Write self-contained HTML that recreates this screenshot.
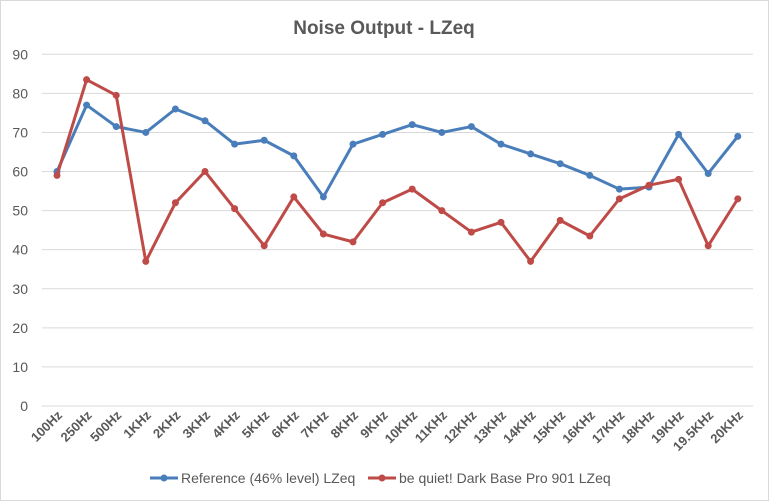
<!DOCTYPE html>
<html><head><style>body{margin:0;background:#fff}svg{display:block;font-family:"Liberation Sans",sans-serif}</style></head><body>
<svg width="769" height="501" xmlns="http://www.w3.org/2000/svg">
<rect x="0.5" y="0.5" width="768" height="500" fill="#fff" stroke="#d9d9d9"/>
<text x="384" y="34" text-anchor="middle" font-size="19" font-weight="bold" fill="#595959">Noise Output  - LZeq</text>
<g id="grid" stroke="#d9d9d9" stroke-width="1"></g>
<g id="yl" font-size="14" fill="#595959" text-anchor="end"></g>
<g id="xl" font-size="13" font-weight="bold" fill="#595959" text-anchor="end"></g>
<g id="s"></g>
<g font-size="14" fill="#595959">
<line x1="150" y1="478" x2="178" y2="478" stroke="#4a7ebb" stroke-width="3"/><circle cx="164" cy="478" r="3.5" fill="#4a7ebb"/>
<text x="181" y="483">Reference (46% level) LZeq</text>
<line x1="368" y1="478" x2="396" y2="478" stroke="#be4b48" stroke-width="3"/><circle cx="382" cy="478" r="3.5" fill="#be4b48"/>
<text x="399" y="483">be quiet! Dark Base Pro 901 LZeq</text>
</g>
<script>
var ns="http://www.w3.org/2000/svg";
function el(t,a,p,txt){var e=document.createElementNS(ns,t);for(var k in a)e.setAttribute(k,a[k]);if(txt)e.textContent=txt;document.getElementById(p).appendChild(e);}
function Y(v){return 406-v*3.908;}
for(var i=0;i<=9;i++){var y=Y(i*10);el('line',{x1:42,x2:753,y1:y,y2:y},'grid');el('text',{x:28,y:y+5},'yl',String(i*10));}
var lab=["100Hz","250Hz","500Hz","1KHz","2KHz","3KHz","4KHz","5KHz","6KHz","7KHz","8KHz","9KHz","10KHz","11KHz","12KHz","13KHz","14KHz","15KHz","16KHz","17KHz","18KHz","19KHz","19.5KHz","20KHz"];
function X(i){return 57+i*29.6;}
lab.forEach(function(l,i){var x=X(i)+6,y=416;el('text',{x:x,y:y,transform:'rotate(-45 '+x+' '+y+')'},'xl',l);});
var b=[60,77,71.5,70,76,73,67,68,64,53.5,67,69.5,72,70,71.5,67,64.5,62,59,55.5,56,69.5,59.5,69];
var r=[59,83.5,79.5,37,52,60,50.5,41,53.5,44,42,52,55.5,50,44.5,47,37,47.5,43.5,53,56.5,58,41,53];
[[b,"#4a7ebb"],[r,"#be4b48"]].forEach(function(s){var pts=s[0].map(function(v,i){return X(i)+","+Y(v);}).join(" ");
el('polyline',{points:pts,fill:"none",stroke:s[1],"stroke-width":3,"stroke-linejoin":"round"},'s');
s[0].forEach(function(v,i){el('circle',{cx:X(i),cy:Y(v),r:3.5,fill:s[1]},'s');});});
</script>
</svg>
</body></html>
